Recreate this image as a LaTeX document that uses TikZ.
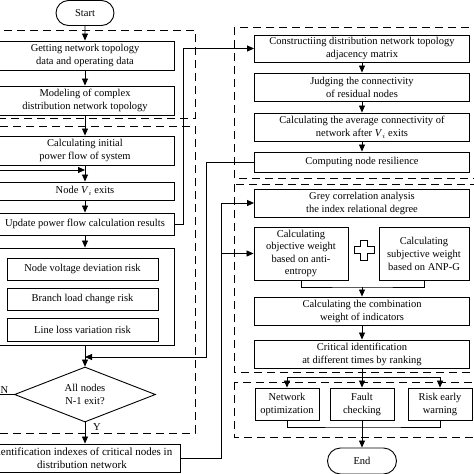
\documentclass[tikz,border=0pt]{standalone}
\usepackage{fontspec}
\setmainfont{Liberation Serif}
\usetikzlibrary{arrows.meta,shapes.geometric,shapes.misc}
\begin{document}
\begin{tikzpicture}[x=1pt,y=-1pt,
  every node/.style={font=\fontsize{10.5}{13}\selectfont, align=center, inner sep=0pt},
  pbox/.style={draw, line width=0.9pt},
  term/.style={draw, line width=0.9pt, rounded rectangle},
  dbox/.style={draw, line width=0.9pt, dash pattern=on 8pt off 5pt},
  conn/.style={line width=0.8pt},
  arr/.style={line width=0.8pt, -{Triangle[length=7pt,width=6pt]}}
]
\useasboundingbox (0,0) rectangle (474,474);
\clip (0,0) rectangle (474,474);
\fill[white] (0,0) rectangle (474,474);

% dashed groups
\draw[dbox] (-5,30) rectangle (195,118);
\draw[dbox] (-5,126) rectangle (195,433);
\draw[dbox] (234,27) rectangle (480,178);
\draw[dbox] (234,184) rectangle (480,372);
\draw[dbox] (234,382) rectangle (480,437);

% left column
\node[term, minimum width=58pt, minimum height=25pt] (start) at (85,13) {Start};
\node[pbox, minimum width=178pt, minimum height=29pt] (get) at (85,55.5) {Getting network topology\\data and operating data};
\node[pbox, minimum width=178pt, minimum height=29pt] (model) at (85,100.5) {Modeling of complex\\distribution network topology};
\node[pbox, minimum width=178pt, minimum height=29pt] (init) at (85,150.5) {Calculating initial\\power flow of system};
\node[pbox, minimum width=178pt, minimum height=18pt] (exits) at (85,191) {Node \textit{V}$_i$ exits};
\node[pbox, minimum width=178pt, minimum height=22pt] (update) at (85,224) {Update power flow calculation results};
\node[pbox, minimum width=178pt, minimum height=97pt] (riskbox) at (85,296.5) {};
\node[pbox, minimum width=151pt, minimum height=22pt] (nv) at (82.5,269) {Node voltage deviation risk};
\node[pbox, minimum width=151pt, minimum height=22pt] (bl) at (82.5,299) {Branch load change risk};
\node[pbox, minimum width=151pt, minimum height=23pt] (ll) at (82.5,329.5) {Line loss variation risk};
\node[pbox, diamond, aspect=2.56, minimum width=141pt, minimum height=55pt] (dia) at (85,394.5) {All nodes\\N-1 exit?};
\node[pbox, minimum width=196pt, minimum height=28pt, font=\fontsize{11}{13}\selectfont] (ident) at (82,458) {Identification indexes of critical nodes in\\distribution network};

% right column
\node[pbox, minimum width=215pt, minimum height=27pt] (cons) at (362,48.5) {Constructiing distribution network topology\\adjacency matrix};
\node[pbox, minimum width=215pt, minimum height=28pt] (judge) at (362,87) {Judging the connectivity\\of residual nodes};
\node[pbox, minimum width=215pt, minimum height=28pt] (avg) at (362,127) {Calculating the average connectivity of\\network after \textit{V}$_i$ exits};
\node[pbox, minimum width=215pt, minimum height=20pt] (comp) at (362,162) {Computing node resilience};
\node[pbox, minimum width=215pt, minimum height=28pt] (grey) at (362,203) {Grey correlation analysis\\the index relational degree};
\node[pbox, minimum width=94pt, minimum height=53pt, font=\fontsize{10.5}{12.6}\selectfont] (obj) at (301,253.5) {Calculating\\objective weight\\based on anti-\\entropy};
\node[pbox, minimum width=90pt, minimum height=53pt] (subj) at (424,253.5) {Calculating\\subjective weight\\based on ANP-G};
\node[pbox, minimum width=215pt, minimum height=28pt] (comb) at (362,311) {Calculating the combination\\weight of indicators};
\node[pbox, minimum width=215pt, minimum height=28pt] (crit) at (362,354) {Critical identification\\at different times by ranking};
\node[pbox, minimum width=64pt, minimum height=32pt] (netopt) at (287,404) {Network\\optimization};
\node[pbox, minimum width=64pt, minimum height=32pt] (fault) at (362,404) {Fault\\checking};
\node[pbox, minimum width=64pt, minimum height=32pt] (riskw) at (440,404) {Risk early\\warning};
\node[term, minimum width=69pt, minimum height=26pt] (end) at (362,461) {End};

% plus sign
\draw[line width=0.8pt] (360.5,240) -- (367.5,240) -- (367.5,246.5) -- (374,246.5) -- (374,253.5) -- (367.5,253.5) -- (367.5,260) -- (360.5,260) -- (360.5,253.5) -- (354,253.5) -- (354,246.5) -- (360.5,246.5) -- cycle;

% labels
\node[anchor=west] (nlab) at (0.5,390) {N};
\node (ylab) at (97,427) {Y};

% coordinates
\coordinate (nleft) at (-6,394.5);
\coordinate (nj) at (85,170);
\coordinate (jn) at (85,357);
\coordinate (bus) at (221,0);
\coordinate (mid) at (362,287);
\coordinate (sp) at (362,377);
\coordinate (jt) at (362,427);

% left connectors
\draw[arr] (start) -- (get);
\draw[arr] (get) -- (model);
\draw[arr] (model) -- (init);
\draw[arr] (init) -- (exits);
\draw[arr] (dia.west) -- (nleft) |- (nj);
\draw[arr] (exits) -- (update);
\draw[arr] (update) -- (riskbox);
\draw[arr] (riskbox) -- (dia);
\draw[arr] (dia) -- (ident.north -| dia);
\draw[arr] (update.east) -- ++(9,0) |- (cons.west);
\draw[arr] (comp.west) -- ++(-48,0) |- (jn);
\draw[arr] (ident.east) -| (bus |- grey.west) -- (grey.west);
\draw[arr] (bus |- obj.west) -- (obj.west);

% right connectors
\draw[arr] (cons) -- (judge);
\draw[arr] (judge) -- (avg);
\draw[arr] (avg) -- (comp);
\draw[conn] (obj.south) |- (mid) -| (subj.south);
\draw[arr] (mid) -- (comb.north);
\draw[arr] (comb) -- (crit);
\draw[conn] (crit.south) -- (sp);
\draw[arr] (sp) -| (netopt.north);
\draw[arr] (sp) -| (riskw.north);
\draw[arr] (sp) -- (fault.north);
\draw[conn] (netopt.south) |- (jt) -| (riskw.south);
\draw[conn] (fault.south) -- (jt);
\draw[arr] (jt) -- (end.north);
\end{tikzpicture}
\end{document}
